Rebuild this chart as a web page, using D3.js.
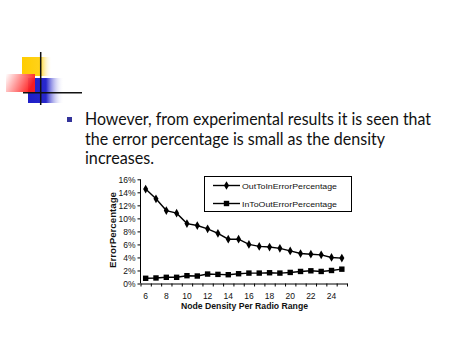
<!DOCTYPE html>
<html>
<head>
<meta charset="utf-8">
<script src="https://cdn.jsdelivr.net/npm/d3@7"></script>
<style>
html,body{margin:0;padding:0;background:#fff;}
svg{display:block;}
</style>
</head>
<body>
<script>
const densities = [6,7,8,9,10,11,12,13,14,15,16,17,18,19,20,21,22,23,24,25];
const outToIn = [14.5,13.0,11.2,10.8,9.2,8.9,8.4,7.7,6.8,6.8,6.0,5.7,5.6,5.4,5.0,4.6,4.5,4.4,4.0,3.9];
const inToOut = [0.8,0.85,0.95,0.95,1.2,1.15,1.45,1.4,1.35,1.5,1.6,1.6,1.65,1.6,1.7,1.85,1.95,1.85,2.0,2.2];
const yTicks = [0,2,4,6,8,10,12,14,16];
const xTickLabels = [6,8,10,12,14,16,18,20,22,24];
const seriesNames = ["OutToInErrorPercentage","InToOutErrorPercentage"];
const bulletLines = ["However, from experimental results it is seen that","the error percentage is small as the density","increases."];

const W = 474, H = 355;
const svg = d3.select("body").append("svg").attr("width", W).attr("height", H);
const defs = svg.append("defs");

// ---- slide decoration (top-left logo) ----
const gy = defs.append("linearGradient").attr("id","gy").attr("x1","0").attr("x2","1");
gy.append("stop").attr("offset","0").attr("stop-color","#ffcc00");
gy.append("stop").attr("offset","0.6").attr("stop-color","#ffd21a");
gy.append("stop").attr("offset","1").attr("stop-color","#ffffff").attr("stop-opacity","0");
const gr = defs.append("linearGradient").attr("id","gr").attr("x1","0").attr("x2","1").attr("y1","0").attr("y2","0.3");
gr.append("stop").attr("offset","0").attr("stop-color","#ffffff");
gr.append("stop").attr("offset","1").attr("stop-color","#ff1a1a");
const gb = defs.append("linearGradient").attr("id","gb").attr("x1","0").attr("x2","1");
gb.append("stop").attr("offset","0").attr("stop-color","#1e1ec8");
gb.append("stop").attr("offset","0.5").attr("stop-color","#2828cc");
gb.append("stop").attr("offset","1").attr("stop-color","#ffffff").attr("stop-opacity","0");

const logo = svg.append("g");
logo.append("rect").attr("x",22).attr("y",57).attr("width",30).attr("height",19).attr("fill","url(#gy)");
logo.append("rect").attr("x",28).attr("y",78).attr("width",36).attr("height",25).attr("fill","url(#gb)");
logo.append("rect").attr("x",6).attr("y",74).attr("width",29).attr("height",18).attr("fill","url(#gr)").attr("opacity",0.95);
logo.append("line").attr("x1",40.7).attr("x2",40.7).attr("y1",52).attr("y2",105).attr("stroke","#111").attr("stroke-width",1.5);
logo.append("line").attr("x1",23).attr("x2",82).attr("y1",92.7).attr("y2",92.7).attr("stroke","#111").attr("stroke-width",1.5);

// ---- bullet text ----
svg.append("rect").attr("x",67).attr("y",117).attr("width",5).attr("height",5).attr("fill","#33339a");
const lineLens = [346, 300, 69];
svg.append("g").selectAll("text").data(bulletLines).join("text")
  .attr("x",85).attr("y",(d,i)=>125 + i*19.5)
  .attr("font-family","Lato, 'Open Sans', sans-serif").attr("font-size",17.5)
  .attr("fill","#111")
  .attr("textLength",(d,i)=>lineLens[i]).attr("lengthAdjust","spacingAndGlyphs")
  .text(d=>d);

// ---- chart ----
const x = d3.scaleLinear().domain([5.5,25.5]).range([140.5,347]);
const y = d3.scaleLinear().domain([0,16]).range([283.5,179.3]);
const font = "'Liberation Sans', Arial, sans-serif";

// y axis
const yAxis = svg.append("g").attr("transform","translate(140.5,0)")
  .call(d3.axisLeft(y).tickValues(yTicks).tickFormat(d=>d+"%").tickSizeOuter(0).tickSize(3).tickPadding(2));
yAxis.select(".domain").attr("stroke","#000").attr("d","M0,"+y(16)+"V"+y(0));
yAxis.selectAll("text").attr("font-family",font).attr("font-size",8.5).attr("fill","#111");

// x axis: ticks at category boundaries
const boundaries = d3.range(5.5, 26, 1);
const xAxis = svg.append("g").attr("transform","translate(0,283.5)")
  .call(d3.axisBottom(x).tickValues(boundaries).tickFormat("").tickSize(3).tickSizeOuter(0));
xAxis.select(".domain").attr("stroke","#000");
svg.append("g").selectAll("text").data(xTickLabels).join("text")
  .attr("x",d=>x(d)).attr("y",299).attr("text-anchor","middle")
  .attr("font-family",font).attr("font-size",8.5).attr("fill","#111").text(d=>d);

// titles
svg.append("text").attr("x",244.5).attr("y",308.5).attr("text-anchor","middle")
  .attr("font-family",font).attr("font-weight","bold").attr("font-size",9.5).attr("fill","#111")
  .attr("textLength",127).attr("lengthAdjust","spacingAndGlyphs")
  .text("Node Density Per Radio Range");
svg.append("text").attr("transform","translate(116,230) rotate(-90)").attr("text-anchor","middle")
  .attr("font-family",font).attr("font-weight","bold").attr("font-size",9.5).attr("fill","#111")
  .attr("textLength",76).attr("lengthAdjust","spacingAndGlyphs")
  .text("ErrorPercentage");

// lines
const line = d3.line().x((d,i)=>x(densities[i])).y(d=>y(d));
svg.append("path").datum(outToIn).attr("d",line).attr("fill","none").attr("stroke","#000").attr("stroke-width",1.4);
svg.append("path").datum(inToOut).attr("d",line).attr("fill","none").attr("stroke","#000").attr("stroke-width",1.4);

const diamond = d3.symbol().type(d3.symbolDiamond).size(22);
svg.append("g").selectAll("path").data(outToIn).join("path")
  .attr("transform",(d,i)=>`translate(${x(densities[i])},${y(d)})`).attr("d",diamond).attr("fill","#000");
svg.append("g").selectAll("rect").data(inToOut).join("rect")
  .attr("x",(d,i)=>x(densities[i])-2.7).attr("y",d=>y(d)-2.7).attr("width",5.4).attr("height",5.4).attr("fill","#000");

// legend
const lg = svg.append("g");
lg.append("rect").attr("x",204.5).attr("y",176.5).attr("width",147).attr("height",35)
  .attr("fill","#fff").attr("stroke","#000").attr("stroke-width",1);
seriesNames.forEach((name,i)=>{
  const ly = 185.5 + i*18;
  lg.append("line").attr("x1",213).attr("x2",240).attr("y1",ly).attr("y2",ly).attr("stroke","#000").attr("stroke-width",1.4);
  if(i===0){
    lg.append("path").attr("transform",`translate(226.5,${ly})`).attr("d",diamond).attr("fill","#000");
  } else {
    lg.append("rect").attr("x",223.8).attr("y",ly-2.7).attr("width",5.4).attr("height",5.4).attr("fill","#000");
  }
  lg.append("text").attr("x",242).attr("y",ly+3).attr("font-family",font).attr("font-size",8)
    .attr("fill","#111").attr("textLength",95).attr("lengthAdjust","spacingAndGlyphs").text(name);
});
</script>
</body>
</html>
